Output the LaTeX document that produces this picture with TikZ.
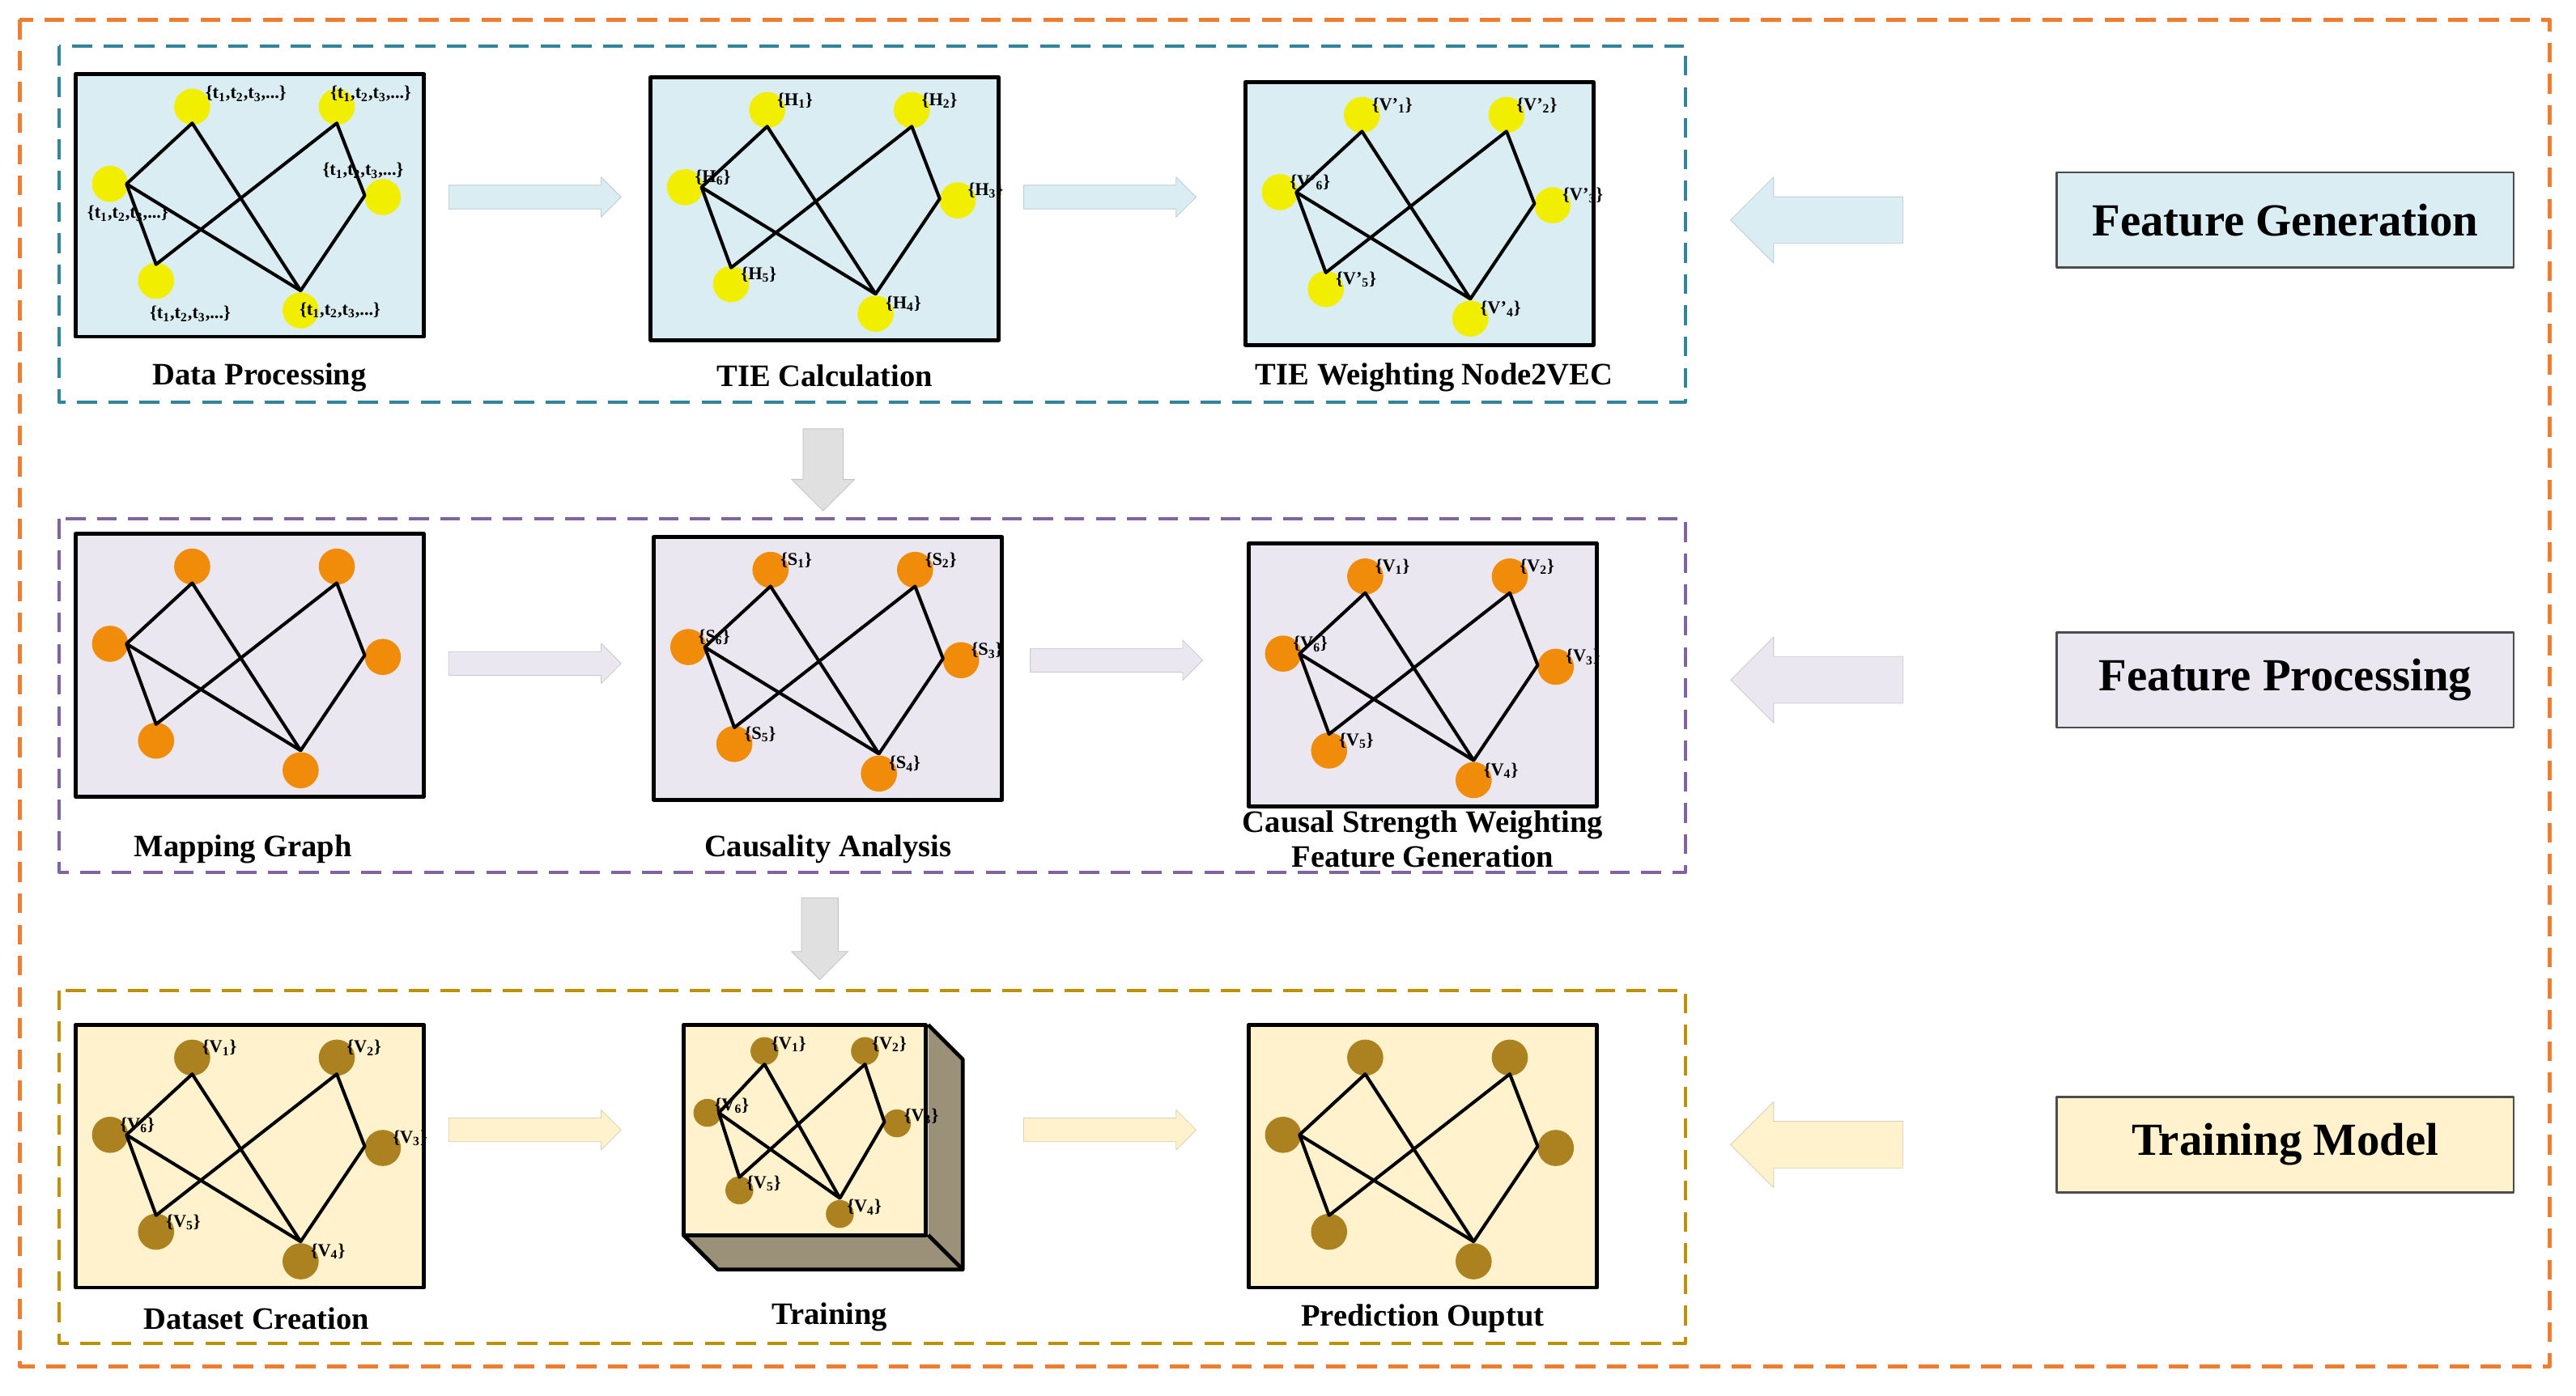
\documentclass[tikz,border=0pt]{standalone}
\usepackage{fontspec}
\setmainfont{Liberation Serif}
\usetikzlibrary{positioning, shapes.arrows}

\definecolor{outerc}{RGB}{237,125,49}
\definecolor{bluec}{RGB}{49,133,155}
\definecolor{purplec}{RGB}{128,100,162}
\definecolor{goldc}{RGB}{191,144,0}
\definecolor{bluefill}{RGB}{218,237,243}
\definecolor{purplefill}{RGB}{234,231,240}
\definecolor{goldfill}{RGB}{255,242,204}
\definecolor{greyfill}{RGB}{224,224,224}
\definecolor{yellowdot}{RGB}{242,238,0}
\definecolor{orangedot}{RGB}{240,140,10}
\definecolor{browndot}{RGB}{172,130,32}
\definecolor{sidec}{RGB}{155,145,120}

\tikzset{
  frame/.style={line width=2.4pt, dash pattern=on 12pt off 7pt},
  panel/.style={line width=2.4pt},
  edge/.style={line width=2pt},
  dot/.style={circle, fill=#1, inner sep=0pt, minimum size=22pt},
  lbl/.style={font=\fontsize{11}{11}\selectfont\bfseries, inner sep=0pt},
  caption/.style={font=\fontsize{19}{19}\selectfont\bfseries},
  flow/.style={single arrow, draw=#1!70!gray, fill=#1, minimum height=105pt,
    inner sep=7pt, single arrow head extend=5pt},
  title/.style={draw=black!70, line width=1.4pt, minimum width=278pt, minimum height=58pt,
    font=\fontsize{28}{28}\selectfont\bfseries}
}

% graph panel: name, x, y, fill, dot colour, scale x, scale y
\newcommand{\graphpanel}[7]{%
  \begin{scope}[shift={(#2,#3)}, xscale=#6, yscale=#7]
    \fill[#4] (0,0) rectangle (212,160);
    \draw[panel] (0,0) rectangle (212,160);
    \coordinate (#1-v1) at (71,30);
    \coordinate (#1-v2) at (159,30);
    \coordinate (#1-v3) at (176,74);
    \coordinate (#1-v4) at (137,132);
    \coordinate (#1-v5) at (49,116);
    \coordinate (#1-v6) at (31,67);
    \node[dot=#5] (#1-c1) at (71,20) {};
    \node[dot=#5] (#1-c2) at (159,20) {};
    \node[dot=#5] (#1-c3) at (187,75) {};
    \node[dot=#5] (#1-c4) at (137,144) {};
    \node[dot=#5] (#1-c5) at (49,126) {};
    \node[dot=#5] (#1-c6) at (21,67) {};
    \draw[edge] (#1-v6) -- (#1-v1) -- (#1-v4) -- (#1-v6) -- (#1-v5) -- (#1-v2) -- (#1-v3) -- (#1-v4);
  \end{scope}}

% labels next to the dots
\newcommand{\dotlabels}[2]{%
  \foreach \t [count=\i] in {#2}
    \node[lbl, anchor=west, xshift=-2pt, yshift=-2pt] (#1-l\i) at (#1-c\i.north east) {\t};}

\newcommand{\tset}{\{t\textsubscript{1},t\textsubscript{2},t\textsubscript{3},...\}}

\begin{document}
\begin{tikzpicture}[x=1pt, y=-1pt, line join=round]
  \useasboundingbox (0,0) rectangle (1568,850);

  % frames
  \draw[frame, outerc] (12,12) rectangle (1552,832);
  \draw[frame, bluec, line width=2pt] (36,28) rectangle (1026,245);
  \draw[frame, purplec, line width=2pt] (36,316) rectangle (1026,531);
  \draw[frame, goldc, line width=2pt] (36,603) rectangle (1026,818);

  % row 1
  \graphpanel{dp}{46}{45}{bluefill}{yellowdot}{1}{1}
  \node[lbl, anchor=west] (dp-l1) at (dp-c1.north east) {\tset};
  \node[lbl, anchor=west] (dp-l2) at ([xshift=-12pt]dp-c2.north east) {\tset};
  \node[lbl, anchor=south] (dp-l3) at ([xshift=-12pt]dp-c3.north) {\tset};
  \node[lbl, anchor=west] (dp-l4) at ([xshift=-12pt]dp-c4.east) {\tset};
  \node[lbl, anchor=north west] (dp-l5) at ([xshift=-4pt, yshift=-4pt]dp-c5.south) {\tset};
  \node[lbl, anchor=north west] (dp-l6) at ([xshift=-14pt, yshift=-2pt]dp-c6.south) {\tset};
  \node[caption] (dp-t) at (158,230) {Data Processing};

  \graphpanel{tie}{396}{47}{bluefill}{yellowdot}{1}{1}
  \dotlabels{tie}{\{H\textsubscript{1}\},\{H\textsubscript{2}\},\{H\textsubscript{3}\},\{H\textsubscript{4}\},\{H\textsubscript{5}\},\{H\textsubscript{6}\}}
  \node[caption] (tie-t) at (502,229) {TIE Calculation};

  \graphpanel{tw}{758}{50}{bluefill}{yellowdot}{1}{1}
  \dotlabels{tw}{\{V'\textsubscript{1}\},\{V'\textsubscript{2}\},\{V'\textsubscript{3}\},\{V'\textsubscript{4}\},\{V'\textsubscript{5}\},\{V'\textsubscript{6}\}}
  \node[caption] (tw-t) at (873,230) {TIE Weighting Node2VEC};

  \node[flow=bluefill] (a11) at (322,120) {};
  \node[flow=bluefill] (a12) at (672,120) {};

  % row 2
  \graphpanel{mg}{46}{325}{purplefill}{orangedot}{1}{1}
  \node[caption] (mg-t) at (148,517) {Mapping Graph};

  \graphpanel{ca}{398}{327}{purplefill}{orangedot}{1}{1}
  \dotlabels{ca}{\{S\textsubscript{1}\},\{S\textsubscript{2}\},\{S\textsubscript{3}\},\{S\textsubscript{4}\},\{S\textsubscript{5}\},\{S\textsubscript{6}\}}
  \node[caption] (ca-t) at (504,517) {Causality Analysis};

  \graphpanel{cs}{760}{331}{purplefill}{orangedot}{1}{1}
  \dotlabels{cs}{\{V\textsubscript{1}\},\{V\textsubscript{2}\},\{V\textsubscript{3}\},\{V\textsubscript{4}\},\{V\textsubscript{5}\},\{V\textsubscript{6}\}}
  \node[caption, align=center] (cs-t) at (866,511) {Causal Strength Weighting\\[2pt]Feature Generation};

  \node[flow=purplefill] (a21) at (322,404) {};
  \node[flow=purplefill] (a22) at (676,402) {};

  % row 3
  \graphpanel{dc}{46}{624}{goldfill}{browndot}{1}{1}
  \dotlabels{dc}{\{V\textsubscript{1}\},\{V\textsubscript{2}\},\{V\textsubscript{3}\},\{V\textsubscript{4}\},\{V\textsubscript{5}\},\{V\textsubscript{6}\}}
  \node[caption] (dc-t) at (156,803) {Dataset Creation};

  % training box
  \fill[sidec] (565,624) -- (586,645) -- (586,773) -- (437,773) -- (416,752) -- (565,752) -- cycle;
  \draw[panel] (565,624) -- (586,645) -- (586,773) -- (437,773) -- (416,752);
  \draw[panel] (565,752) -- (586,773);
  \begin{scope}[dot/.append style={minimum size=17pt}]
    \graphpanel{tr}{416}{624}{goldfill}{browndot}{0.695}{0.8}
  \end{scope}
  \dotlabels{tr}{\{\textbf{V}\textsubscript{1}\},\{\textbf{V}\textsubscript{2}\},\{\textbf{V}\textsubscript{3}\},\{\textbf{V}\textsubscript{4}\},\{\textbf{V}\textsubscript{5}\},\{\textbf{V}\textsubscript{6}\}}
  \node[caption] (tr-t) at (505,802) {Training};

  \graphpanel{po}{760}{624}{goldfill}{browndot}{1}{1}
  \node[caption] (po-t) at (866,803) {Prediction Ouptut};

  \node[flow=goldfill] (a31) at (322,688) {};
  \node[flow=goldfill] (a32) at (672,688) {};

  % arrows between rows
  \node[flow=greyfill, minimum height=50pt, inner sep=12pt, single arrow head extend=7pt, shape border rotate=270] (d1) at (501,280) {};
  \node[flow=greyfill, minimum height=50pt, inner sep=11pt, single arrow head extend=6pt, shape border rotate=270] (d2) at (499,566) {};

  % titles
  \node[title, fill=bluefill] (fg) at (1391,134) {Feature Generation};
  \node[title, fill=purplefill] (fp) at (1391,414) {Feature Processing};
  \node[title, fill=goldfill] (tm) at (1391,697) {Training Model};

  \node[flow=bluefill, inner sep=14pt, single arrow head extend=12pt, shape border rotate=180] (b1) at (1113,134) {};
  \node[flow=purplefill, inner sep=14pt, single arrow head extend=12pt, shape border rotate=180] (b2) at (1113,414) {};
  \node[flow=goldfill, inner sep=14pt, single arrow head extend=12pt, shape border rotate=180] (b3) at (1113,697) {};
\end{tikzpicture}
\end{document}
